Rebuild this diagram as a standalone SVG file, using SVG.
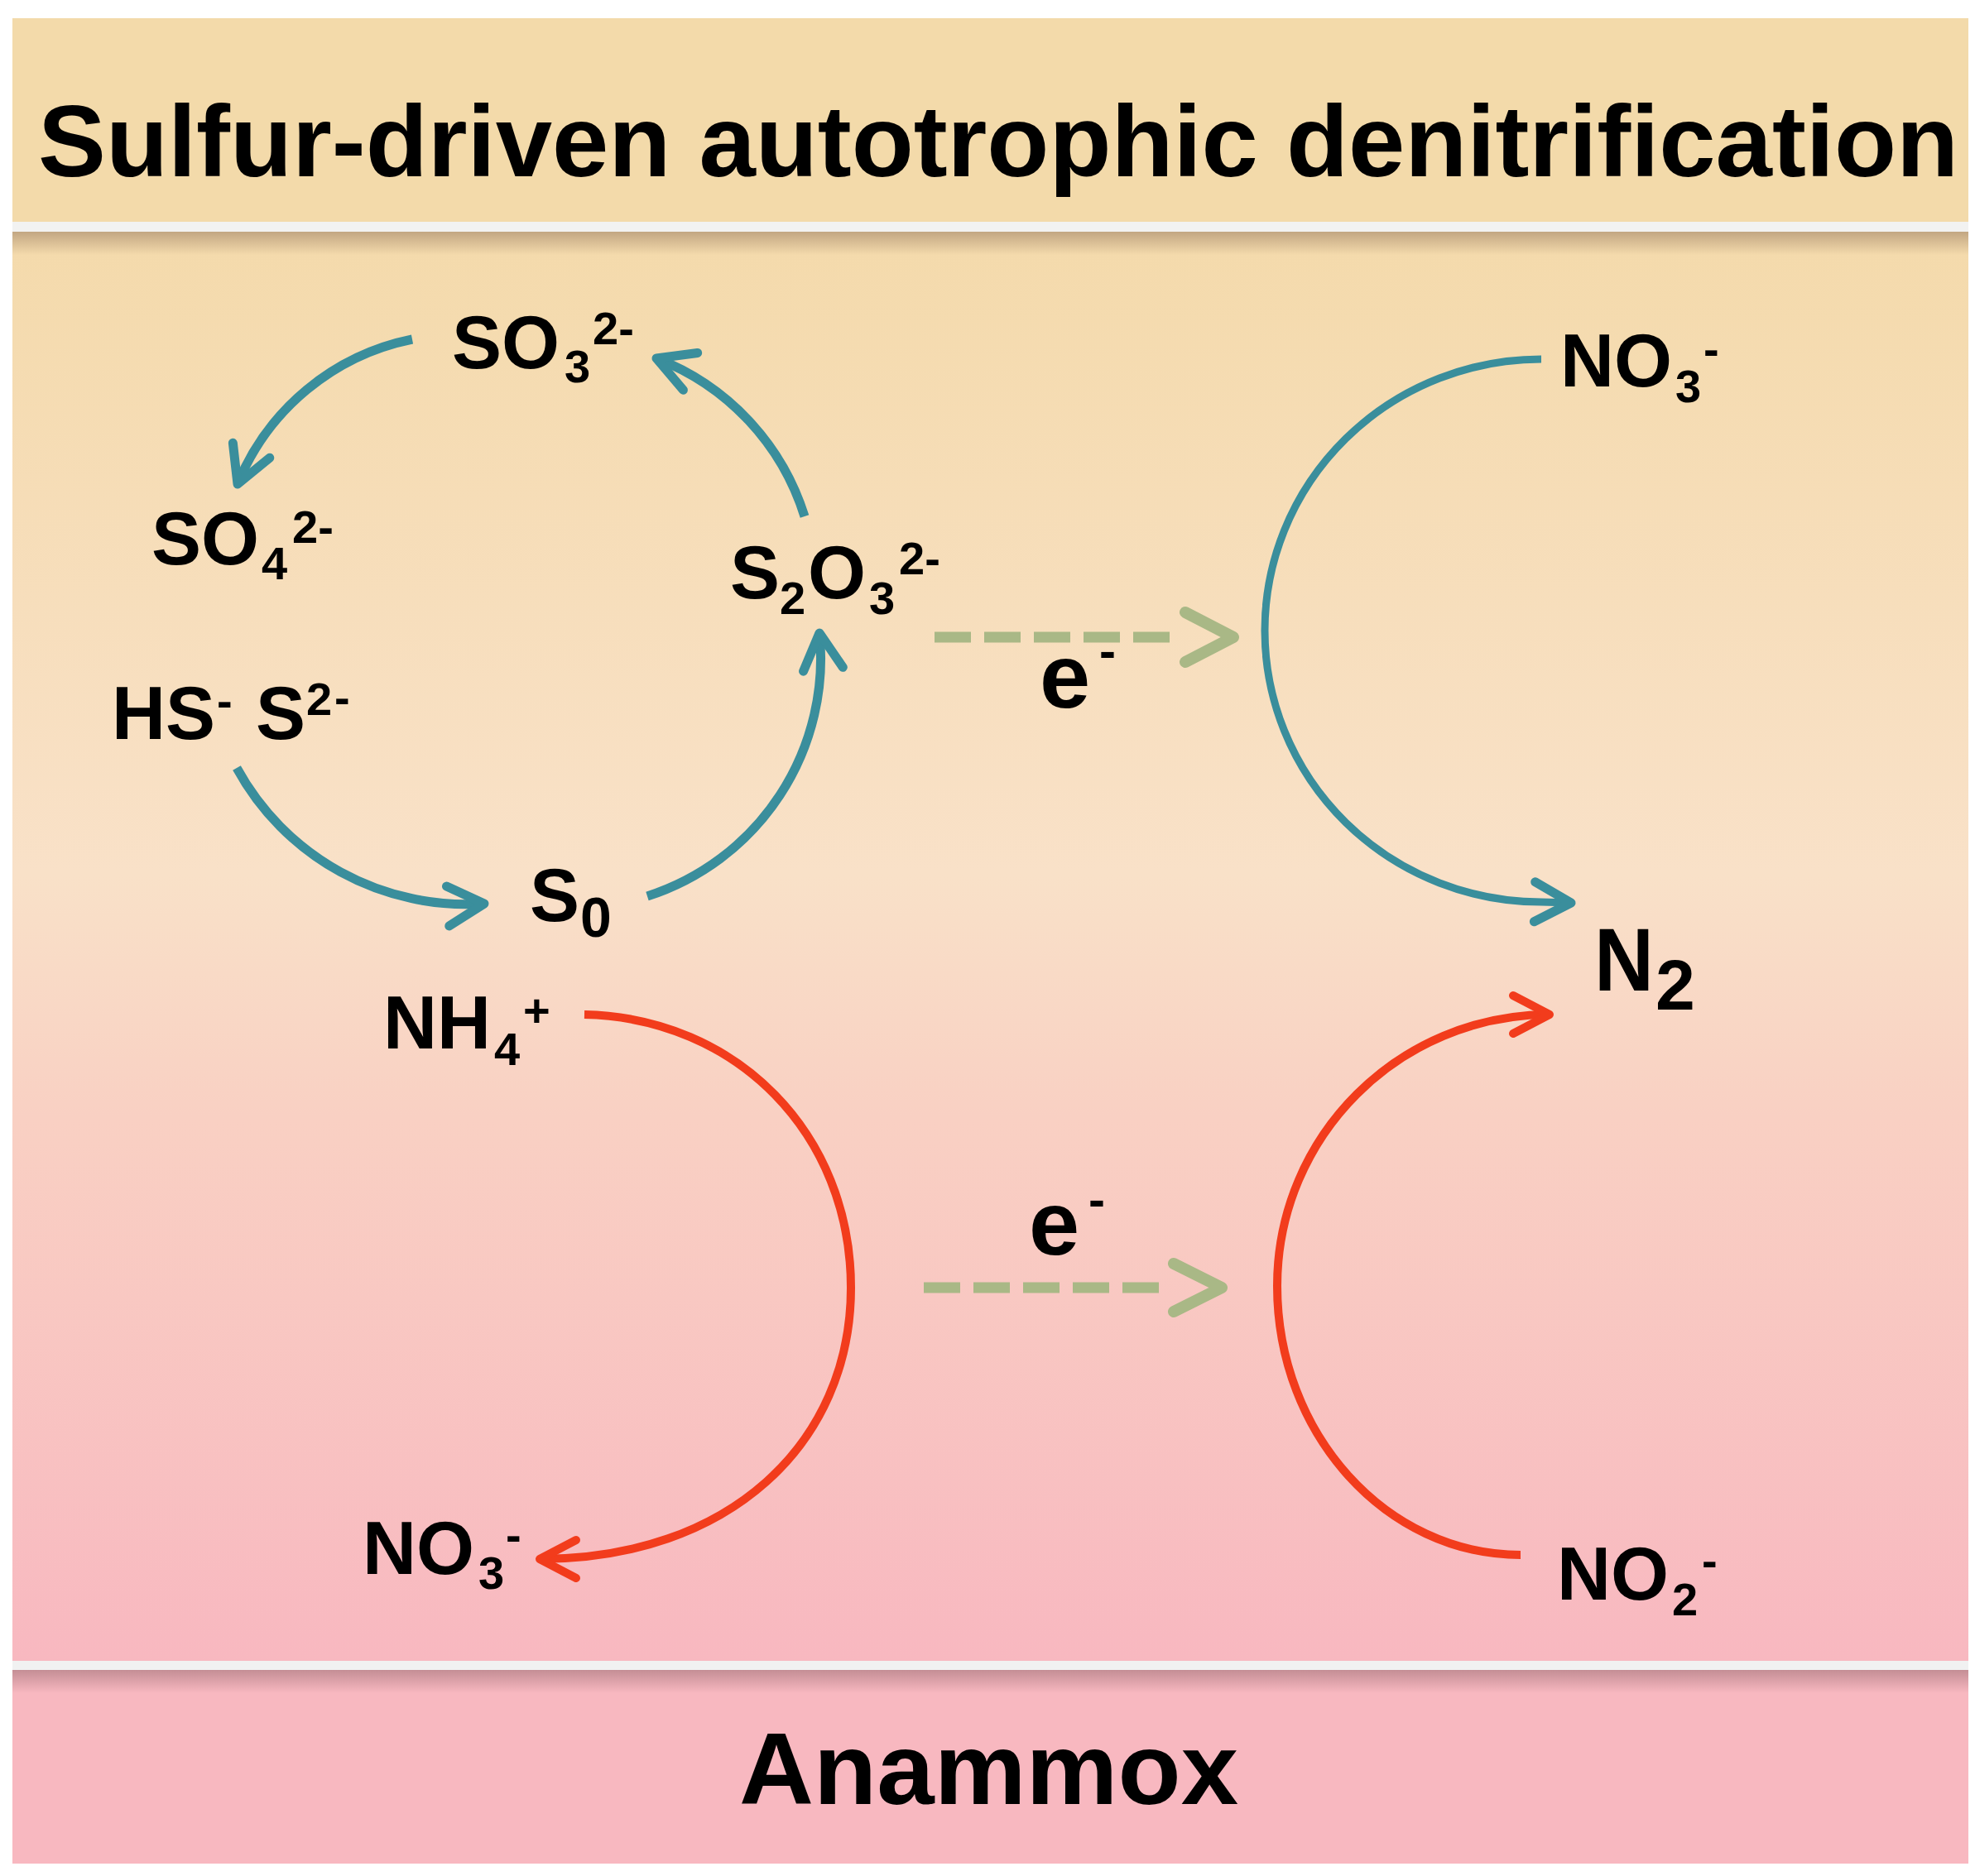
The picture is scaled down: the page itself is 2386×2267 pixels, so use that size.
<svg xmlns="http://www.w3.org/2000/svg" width="2386" height="2267" viewBox="0 0 2386 2267">
  <style>
    .lbl { font-family: "Liberation Sans", Arial, sans-serif; font-weight: bold; fill: #000; }
    .big { font-size: 90px; }
    .sm { font-size: 56px; }
    .title { font-family: "Liberation Sans", Arial, sans-serif; font-weight: bold; font-size: 123px; fill: #000; }
    .teal { fill: none; stroke: #3A8E9C; stroke-width: 11; stroke-linecap: butt; }
    .red { fill: none; stroke: #F23C1C; stroke-width: 10; stroke-linecap: butt; }
    .dash { fill: none; stroke: #A9B886; stroke-width: 13; stroke-dasharray: 44 16; }
    .chev { fill: none; stroke: #A9B886; stroke-width: 14; stroke-linecap: round; stroke-linejoin: round; }
  </style>
  <defs>
    <linearGradient id="mainGrad" gradientUnits="userSpaceOnUse" x1="0" y1="280" x2="0" y2="2007">
      <stop offset="0" stop-color="#F4DAAB"/>
      <stop offset="0.45" stop-color="#F9E1C8"/>
      <stop offset="0.62" stop-color="#F9D0C3"/>
      <stop offset="1" stop-color="#F8B8C0"/>
    </linearGradient>
    <linearGradient id="shadowTop" x1="0" y1="0" x2="0" y2="1">
      <stop offset="0" stop-color="#C2A682" stop-opacity="1"/>
      <stop offset="1" stop-color="#C2A682" stop-opacity="0"/>
    </linearGradient>
    <linearGradient id="shadowBot" x1="0" y1="0" x2="0" y2="1">
      <stop offset="0" stop-color="#C48E95" stop-opacity="1"/>
      <stop offset="1" stop-color="#C48E95" stop-opacity="0"/>
    </linearGradient>
    <marker id="ahTeal" markerUnits="userSpaceOnUse" viewBox="-60 -40 80 80" markerWidth="80" markerHeight="80" refX="0" refY="0" orient="auto" overflow="visible">
      <path d="M-44,-24 L0,0 L-44,24" fill="none" stroke="#3A8E9C" stroke-width="11" stroke-linecap="round" stroke-linejoin="round"/>
    </marker>
    <marker id="ahRed" markerUnits="userSpaceOnUse" viewBox="-60 -40 80 80" markerWidth="80" markerHeight="80" refX="0" refY="0" orient="auto" overflow="visible">
      <path d="M-44,-23 L0,0 L-44,23" fill="none" stroke="#F23C1C" stroke-width="10" stroke-linecap="round" stroke-linejoin="round"/>
    </marker>
  </defs>

  <!-- background -->
  <rect x="0" y="0" width="2386" height="2267" fill="#FFFFFF"/>
  <g id="background">
    <rect x="15" y="22" width="2363" height="248" fill="#F3DAAA"/>
    <rect x="15" y="280" width="2363" height="1728" fill="url(#mainGrad)"/>
    <rect x="15" y="280" width="2363" height="28" fill="url(#shadowTop)"/>
    <rect x="15" y="268" width="2363" height="12" fill="#F2F2F1"/>
    <rect x="15" y="2018" width="2363" height="234" fill="#F8B8C0"/>
    <rect x="15" y="2018" width="2363" height="28" fill="url(#shadowBot)"/>
    <rect x="15" y="2007" width="2363" height="11" fill="#F1F1F1"/>
  </g>

  <g id="title-top">
    <text class="title" x="46" y="213" textLength="2320" lengthAdjust="spacingAndGlyphs">Sulfur-driven autotrophic denitrification</text>
  </g>
  <g id="title-bottom">
    <text class="title" x="893" y="2180" textLength="603" lengthAdjust="spacingAndGlyphs">Anammox</text>
  </g>

  <!-- connectors -->
  <g id="connectors">
    <!-- sulfur cycle -->
    <path class="teal" d="M498,410 A290,290 0 0 0 287,585" marker-end="url(#ahTeal)"/>
    <path class="teal" d="M972,624 A301,301 0 0 0 793,433" marker-end="url(#ahTeal)"/>
    <path class="teal" d="M286,928 A316,316 0 0 0 585,1092" marker-end="url(#ahTeal)"/>
    <path class="teal" d="M782,1083 A302,302 0 0 0 990,765" marker-end="url(#ahTeal)"/>
    <!-- denitrification -->
    <path class="teal" style="stroke-width:9" d="M1862,434 A334,328 0 0 0 1862,1090 L1898,1091" marker-end="url(#ahTeal)"/>
    <!-- anammox -->
    <path class="red" d="M706,1226 C890,1230 1028,1370 1028,1556 C1028,1745 880,1884 652,1884" marker-end="url(#ahRed)"/>
    <path class="red" d="M1837,1879 C1675,1879 1543,1733 1543,1554 C1543,1373 1690,1226 1872,1226" marker-end="url(#ahRed)"/>
    <!-- electron transfer -->
    <path class="dash" d="M1129,770 H1413"/>
    <path class="chev" d="M1432,740 L1490,770 L1432,800"/>
    <path class="dash" d="M1116,1556 H1400"/>
    <path class="chev" d="M1418,1527 L1476,1556 L1418,1585"/>
  </g>

  <!-- nodes -->
  <g id="node-SO3">
    <text class="lbl big" x="546" y="445">SO</text>
    <text class="lbl sm" x="682" y="462">3</text>
    <text class="lbl sm" x="716" y="416">2-</text>
  </g>
  <g id="node-SO4">
    <text class="lbl big" x="183" y="682">SO</text>
    <text class="lbl sm" x="316" y="700">4</text>
    <text class="lbl sm" x="353" y="656">2-</text>
  </g>
  <g id="node-S2O3">
    <text class="lbl big" x="882" y="723">S</text>
    <text class="lbl sm" x="942" y="742">2</text>
    <text class="lbl big" x="976" y="723">O</text>
    <text class="lbl sm" x="1050" y="742">3</text>
    <text class="lbl sm" x="1086" y="694">2-</text>
  </g>
  <g id="node-HS-S2">
    <text class="lbl big" x="135" y="893">HS</text>
    <text class="lbl sm" x="262" y="866">-</text>
    <text class="lbl big" x="309" y="893">S</text>
    <text class="lbl sm" x="370" y="864">2</text>
    <text class="lbl sm" x="404" y="862">-</text>
  </g>
  <g id="node-S0">
    <text class="lbl big" x="640" y="1113">S</text>
    <text class="lbl" style="font-size:68px" x="701" y="1132">0</text>
  </g>
  <g id="node-NO3-top">
    <text class="lbl big" x="1885" y="467">NO</text>
    <text class="lbl sm" x="2024" y="486">3</text>
    <text class="lbl sm" x="2058" y="441">-</text>
  </g>
  <g id="node-N2">
    <text class="lbl" style="font-size:108px" x="1926" y="1197" textLength="72" lengthAdjust="spacingAndGlyphs">N</text>
    <text class="lbl" style="font-size:86px" x="2000" y="1220">2</text>
  </g>
  <g id="node-NH4">
    <text class="lbl big" x="463" y="1267">NH</text>
    <text class="lbl sm" x="597" y="1287">4</text>
    <text class="lbl sm" x="632" y="1240">+</text>
  </g>
  <g id="node-NO3-bottom">
    <text class="lbl big" x="438" y="1902">NO</text>
    <text class="lbl sm" x="578" y="1920">3</text>
    <text class="lbl sm" x="611" y="1874">-</text>
  </g>
  <g id="node-NO2">
    <text class="lbl big" x="1881" y="1933">NO</text>
    <text class="lbl sm" x="2020" y="1952">2</text>
    <text class="lbl sm" x="2056" y="1905">-</text>
  </g>
  <g id="label-e-top">
    <text class="lbl" style="font-size:110px" x="1256" y="855">e</text>
    <text class="lbl" style="font-size:60px" x="1328" y="807">-</text>
  </g>
  <g id="label-e-bottom">
    <text class="lbl" style="font-size:110px" x="1243" y="1516">e</text>
    <text class="lbl" style="font-size:60px" x="1315" y="1470">-</text>
  </g>
</svg>
